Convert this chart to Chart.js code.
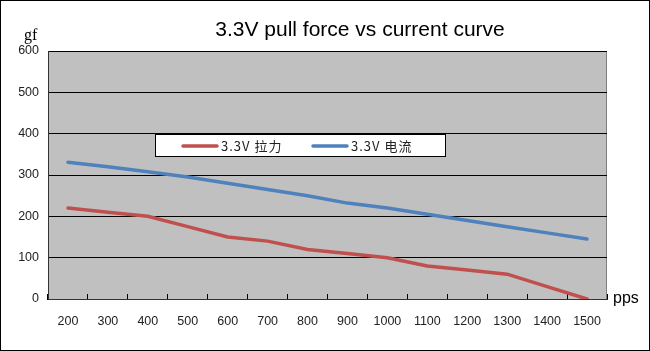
<!DOCTYPE html>
<html>
<head>
<meta charset="utf-8">
<script src="https://cdn.jsdelivr.net/npm/chart.js@4"></script>
<style>
  html, body { margin: 0; padding: 0; background: #fff; }
  #wrap { width: 650px; height: 351px; }
</style>
</head>
<body>
<div id="wrap"><canvas id="pullChart" width="650" height="351"></canvas></div>
<script>
// данные графика
const speeds = ["200", "300", "400", "500", "600", "700", "800", "900", "1000", "1100", "1200", "1300", "1400", "1500"];
const pullForce = [220, 210, 200, 175, 150, 140, 120, 110, 100, 80, 70, 60, 30, 0];
const current = [331, 320, 308, 295, 280, 265, 250, 232, 220, 205, 190, 175, 160, 145];
const seriesNames = ["3.3V 拉力", "3.3V 电流"];
const seriesColors = ["#c0504d", "#4f81bd"];
const yTicks = [0, 100, 200, 300, 400, 500, 600];

const tickFont = { family: "'Liberation Sans', Arial, sans-serif", size: 12.5 };

// рамка, фон области графика, заголовок, подписи осей и легенда
const decorPlugin = {
  id: "decor",
  beforeDraw(chart) {
    const c = chart.ctx;
    const a = chart.chartArea;
    c.save();
    c.fillStyle = "#fff";
    c.fillRect(0, 0, chart.width, chart.height);
    c.strokeStyle = "#000";
    c.lineWidth = 1;
    c.strokeRect(0.5, 0.5, chart.width - 1, chart.height - 1);
    c.fillStyle = "#c0c0c0";
    c.fillRect(a.left, a.top, a.right - a.left, a.bottom - a.top);
    c.strokeStyle = "#808080";
    c.strokeRect(a.left + 0.5, a.top + 0.5, a.right - a.left - 1, a.bottom - a.top);
    c.restore();
  },
  afterDraw(chart) {
    const c = chart.ctx;
    c.save();
    c.fillStyle = "#000";
    c.textBaseline = "alphabetic";
    c.font = "21px 'Liberation Sans', Arial, sans-serif";
    c.textAlign = "center";
    c.fillText("3.3V pull force vs current curve", 360, 36);
    c.textAlign = "left";
    c.font = "16px 'Liberation Serif', serif";
    c.fillText("gf", 24, 40);
    c.font = "16px 'Liberation Sans', Arial, sans-serif";
    c.fillText("pps", 613, 303);

    // легенда
    c.fillStyle = "#fff";
    c.fillRect(155, 134, 291, 23);
    c.strokeStyle = "#000";
    c.lineWidth = 1;
    c.strokeRect(155.5, 134.5, 290, 22);
    const starts = [183, 313];
    c.font = "13px 'Noto Sans CJK SC', sans-serif";
    c.letterSpacing = "1px";
    c.textBaseline = "middle";
    chart.data.datasets.forEach(function(ds, i) {
      c.strokeStyle = ds.borderColor;
      c.lineWidth = 3.5;
      c.lineCap = "round";
      c.beginPath();
      c.moveTo(starts[i], 146);
      c.lineTo(starts[i] + 34, 146);
      c.stroke();
      c.fillStyle = "#222";
      c.fillText(ds.label, starts[i] + 38, 146);
    });
    c.restore();
  }
};

const ctx = document.getElementById("pullChart").getContext("2d");
new Chart(ctx, {
  type: "line",
  data: {
    labels: speeds,
    datasets: [
      { label: seriesNames[0], data: pullForce, borderColor: seriesColors[0], borderWidth: 3.5 },
      { label: seriesNames[1], data: current, borderColor: seriesColors[1], borderWidth: 3.5 }
    ]
  },
  options: {
    responsive: false,
    animation: false,
    layout: { padding: { top: 51, right: 43, left: 0, bottom: 0 } },
    elements: { point: { radius: 0 }, line: { tension: 0, borderCapStyle: "round" } },
    plugins: { legend: { display: false }, title: { display: false }, tooltip: { enabled: false } },
    scales: {
      x: {
        offset: true,
        grid: { offset: true, drawOnChartArea: false, drawTicks: true, tickLength: -5, color: "#000" },
        border: { color: "#333", width: 1 },
        ticks: { color: "#222", padding: 20, font: tickFont },
        afterFit(scale) { scale.height = 52; }
      },
      y: {
        min: 0,
        max: 600,
        afterBuildTicks(scale) { scale.ticks = yTicks.map(function(v) { return { value: v }; }); },
        grid: { color: "#000", drawTicks: false },
        border: { color: "#333", width: 1 },
        ticks: { color: "#222", padding: 9, font: tickFont },
        afterFit(scale) { scale.width = 48; }
      }
    }
  },
  plugins: [decorPlugin]
});
</script>
</body>
</html>
